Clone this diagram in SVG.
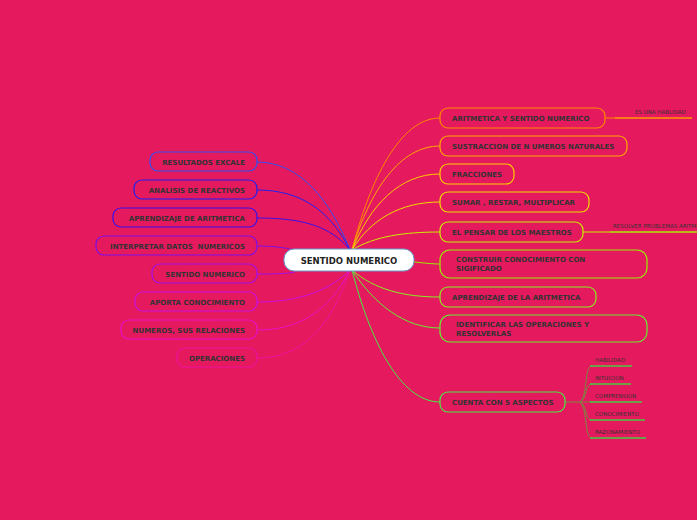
<svg xmlns="http://www.w3.org/2000/svg" width="697" height="520" viewBox="0 0 697 520">
<style>
.n{fill:none;stroke-width:1.2}
.t{font-family:"DejaVu Sans",sans-serif;font-weight:bold;font-size:7px;fill:#333}
.s{font-family:"DejaVu Sans",sans-serif;font-size:5.5px;fill:#333}
.c{fill:none;stroke-width:1}
</style>
<rect width="697" height="520" fill="#E5195E"/>
<g id="connectors">
<path class="c" stroke="#3050f0" d="M350,250 C330,200 300,162 257,162"/>
<path class="c" stroke="#2020f0" d="M350,250 C330,210 300,190 257,190"/>
<path class="c" stroke="#3a10e8" d="M350,250 C330,225 300,218 257,218"/>
<path class="c" stroke="#7a10e8" d="M300,252 C290,248 275,246 257,246"/>
<path class="c" stroke="#a010e8" d="M295,272 C285,274 270,274 257,274"/>
<path class="c" stroke="#cc10e0" d="M350,270 C330,290 300,302 257,302"/>
<path class="c" stroke="#e810c8" d="M350,270 C330,310 300,330 257,330"/>
<path class="c" stroke="#f010a0" d="M350,270 C330,330 300,358 257,358"/>
<path class="c" stroke="#ff8800" d="M352,250 C370,180 400,118 440,118"/>
<path class="c" stroke="#ffaa00" d="M352,250 C370,190 400,146 440,146"/>
<path class="c" stroke="#ffcc00" d="M352,250 C370,205 400,174 440,174"/>
<path class="c" stroke="#eedd00" d="M352,250 C370,220 400,202 440,202"/>
<path class="c" stroke="#ccee00" d="M352,250 C375,236 405,232 440,232"/>
<path class="c" stroke="#99ee00" d="M414,262 C425,263 432,264 440,264"/>
<path class="c" stroke="#88ee22" d="M352,270 C375,290 405,297 440,297"/>
<path class="c" stroke="#66ee33" d="M352,270 C375,305 405,328 440,328"/>
<path class="c" stroke="#44ee44" d="M352,270 C370,340 400,402 440,402"/>
<path class="c" stroke="#ff8800" d="M605,118 L615,118"/>
<path stroke="#ff9900" stroke-width="1.5" d="M615,118 L692,118"/>
<path class="c" stroke="#ccee00" d="M583,232 L610,232"/>
<path stroke="#aaee00" stroke-width="1.5" d="M610,232 L697,232"/>
<g class="c" stroke="#7a8a40">
<path d="M565,402 L580,402"/>
<path d="M580,402 C588,395 584,366 592,366"/>
<path d="M580,402 C588,398 584,384 592,384"/>
<path d="M580,402 C588,402 586,402 592,402"/>
<path d="M580,402 C588,406 584,420 592,420"/>
<path d="M580,402 C588,410 584,438 592,438"/>
</g>
<g stroke="#44cc44" stroke-width="1.3">
<path d="M590,366 L632,366"/><path d="M590,384 L631,384"/><path d="M590,402 L642,402"/><path d="M590,420 L645,420"/><path d="M590,438 L646,438"/>
</g>
</g>
<g id="center"><rect x="284" y="249" width="130" height="22" rx="10" fill="#fff" stroke="#6699cc" stroke-width="1"/><text x="349" y="263.5" text-anchor="middle" style="font-family:'DejaVu Sans',sans-serif;font-weight:bold;font-size:8.5px;fill:#222">SENTIDO NUMERICO</text></g>
<g id="l1"><rect class="n" x="150" y="152" width="107" height="19" rx="8" stroke="#3050f0"/><text class="t" x="245" y="164.5" text-anchor="end">RESULTADOS EXCALE</text></g>
<g id="l2"><rect class="n" x="134" y="180" width="123" height="19" rx="8" stroke="#2020f0"/><text class="t" x="245" y="192.5" text-anchor="end">ANALISIS DE REACTIVOS</text></g>
<g id="l3"><rect class="n" x="113" y="208" width="144" height="19" rx="8" stroke="#3a10e8"/><text class="t" x="245" y="220.5" text-anchor="end">APRENDIZAJE DE ARITMETICA</text></g>
<g id="l4"><rect class="n" x="96" y="236" width="161" height="19" rx="8" stroke="#7a10e8"/><text class="t" x="245" y="248.5" text-anchor="end" xml:space="preserve">INTERPRETAR DATOS  NUMERICOS</text></g>
<g id="l5"><rect class="n" x="152" y="264" width="105" height="19" rx="8" stroke="#a010e8"/><text class="t" x="245" y="276.5" text-anchor="end">SENTIDO NUMERICO</text></g>
<g id="l6"><rect class="n" x="135" y="292" width="122" height="19" rx="8" stroke="#cc10e0"/><text class="t" x="245" y="304.5" text-anchor="end">APORTA CONOCIMIENTO</text></g>
<g id="l7"><rect class="n" x="121" y="320" width="136" height="19" rx="8" stroke="#e810c8"/><text class="t" x="245" y="332.5" text-anchor="end">NUMEROS, SUS RELACIONES</text></g>
<g id="l8"><rect class="n" x="177" y="348" width="80" height="19" rx="8" stroke="#f010a0"/><text class="t" x="245" y="360.5" text-anchor="end">OPERACIONES</text></g>
<g id="r1"><rect class="n" x="440" y="108" width="165" height="20" rx="8" stroke="#ff8800"/><text class="t" x="452" y="121">ARITMETICA Y SENTIDO NUMERICO</text></g>
<g id="r2"><rect class="n" x="440" y="136" width="187" height="20" rx="8" stroke="#ffaa00"/><text class="t" x="452" y="149">SUSTRACCION DE N UMEROS NATURALES</text></g>
<g id="r3"><rect class="n" x="440" y="164" width="74" height="20" rx="8" stroke="#ffcc00"/><text class="t" x="452" y="177">FRACCIONES</text></g>
<g id="r4"><rect class="n" x="440" y="192" width="149" height="20" rx="8" stroke="#eedd00"/><text class="t" x="452" y="205">SUMAR , RESTAR, MULTIPLICAR</text></g>
<g id="r5"><rect class="n" x="440" y="222" width="143" height="20" rx="8" stroke="#ccee00"/><text class="t" x="452" y="235">EL PENSAR DE LOS MAESTROS</text></g>
<g id="r6"><rect class="n" x="440" y="250" width="207" height="28" rx="10" stroke="#99ee00"/><text class="t" x="456" y="262">CONSTRUIR CONOCIMIENTO CON</text><text class="t" x="456" y="271">SIGIFICADO</text></g>
<g id="r7"><rect class="n" x="440" y="287" width="156" height="20" rx="8" stroke="#88ee22"/><text class="t" x="452" y="300">APRENDIZAJE DE LA ARITMETICA</text></g>
<g id="r8"><rect class="n" x="440" y="315" width="207" height="27" rx="10" stroke="#66ee33"/><text class="t" x="456" y="327">IDENTIFICAR LAS OPERACIONES Y</text><text class="t" x="456" y="336">RESOLVERLAS</text></g>
<g id="r9"><rect class="n" x="440" y="392" width="125" height="20" rx="8" stroke="#44ee44"/><text class="t" x="452" y="405">CUENTA CON 5 ASPECTOS</text></g>
<g id="s1"><text class="s" x="635" y="114">ES UNA HABLIDAD</text></g>
<g id="s2"><text class="s" x="613" y="228">RESOLVER PROBLEMAS ARITMETICOS</text></g>
<g id="a1"><text class="s" x="595" y="362">HABILIDAD</text></g>
<g id="a2"><text class="s" x="595" y="380">INTUICION</text></g>
<g id="a3"><text class="s" x="595" y="398">COMPRENSION</text></g>
<g id="a4"><text class="s" x="595" y="416">CONOCIMIENTO</text></g>
<g id="a5"><text class="s" x="595" y="434">RAZONAMIENTO</text></g>
</svg>
